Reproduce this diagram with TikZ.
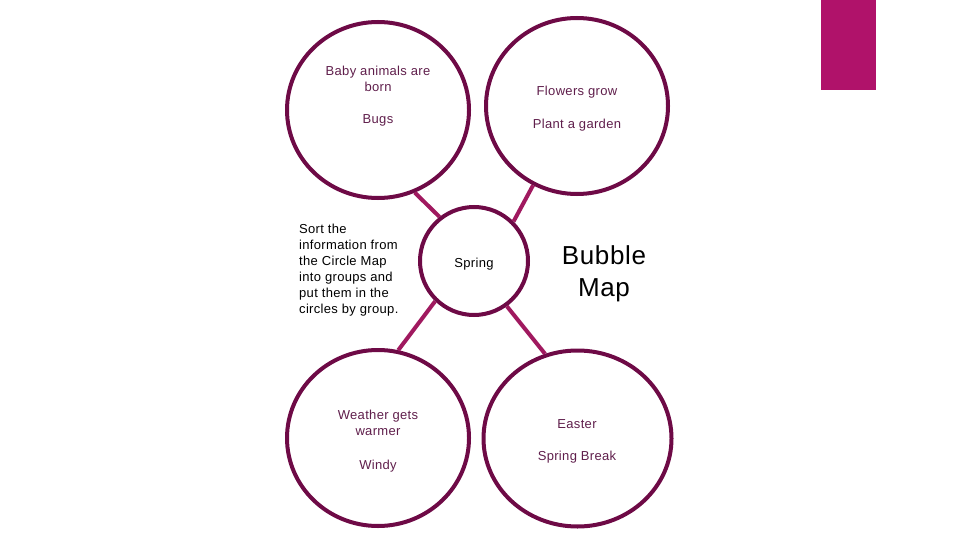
\documentclass[tikz,border=0pt]{standalone}
\usepackage{fontspec}
\setmainfont[LetterSpace=2.5]{Liberation Sans}
\usetikzlibrary{shapes.geometric}
\definecolor{ringc}{RGB}{110,10,70}
\definecolor{linkc}{RGB}{160,25,95}
\definecolor{txtc}{RGB}{95,30,75}
\definecolor{barc}{RGB}{176,18,106}
\tikzset{
  bubble/.style={draw=ringc, line width=4pt, ellipse, inner sep=0pt, minimum width=182pt, minimum height=176pt},
  hub/.style={draw=ringc, line width=4pt, circle, inner sep=0pt, minimum size=108pt},
  link/.style={draw=linkc, line width=4pt},
  btxt/.style={text=txtc, font=\fontsize{13pt}{16pt}\selectfont, align=center, inner sep=0pt},
  ktxt/.style={text=black, font=\fontsize{13pt}{16pt}\selectfont, inner sep=0pt}
}
\begin{document}
\begin{tikzpicture}[x=1pt,y=-1pt]
\useasboundingbox (0,0) rectangle (960,540);
\fill[barc] (821,0) rectangle (876,90);
\node[bubble] (tl) at (378,110) {};
\node[bubble] (tr) at (577,106) {};
\node[bubble] (bl) at (378,438) {};
\node[bubble, minimum width=188pt] (br) at (577.5,438.5) {};
\node[hub] (hub) at (474,261) {};
\draw[link] (hub.128) -- (tl.-66);
\draw[link] (hub.45) -- (tr.241);
\draw[link] (hub.226) -- (bl.77);
\draw[link] (hub.-54) -- (br.111);
\node[btxt] (t1) at (378,79) {Baby animals are\\born};
\node[btxt] (t2) at (378,120) {Bugs};
\node[btxt] (t3) at (577,92) {Flowers grow};
\node[btxt] (t4) at (577,125) {Plant a garden};
\node[btxt] (t5) at (378,423) {Weather gets\\warmer};
\node[btxt] (t6) at (378,466) {Windy};
\node[btxt] (t7) at (577,424) {Easter};
\node[btxt] (t8) at (577,457) {Spring Break};
\node[ktxt] (sp) at (474,264) {Spring};
\node[ktxt, align=left, anchor=north west] (sort) at (299,224) {Sort the\\information from\\the Circle Map\\into groups and\\put them in the\\circles by group.};
\node[text=black, font=\fontsize{26pt}{32pt}\selectfont, align=center, inner sep=0pt] (bm) at (604,274) {Bubble\\Map};
\end{tikzpicture}
\end{document}
